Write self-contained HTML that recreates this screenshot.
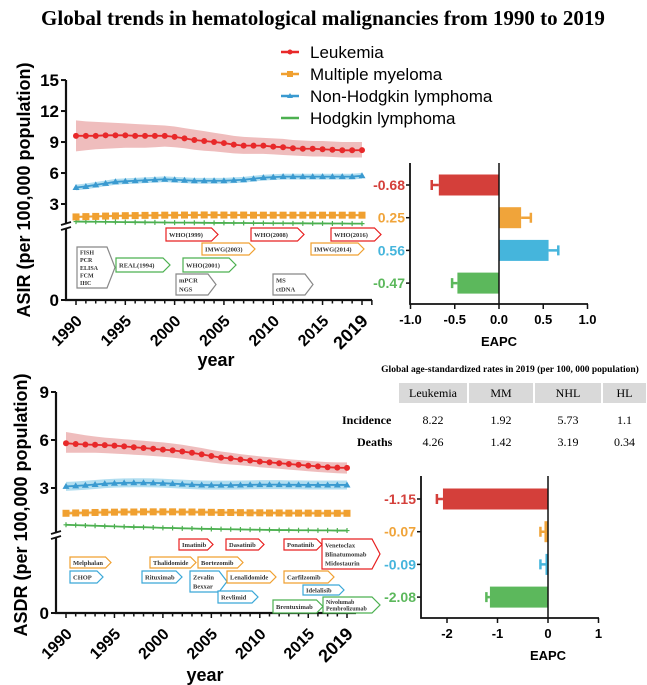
<!DOCTYPE html>
<html><head><meta charset="utf-8">
<style>
body{margin:0;background:#fff;}
svg{display:block;font-family:"Liberation Sans",Arial,sans-serif;}
.ser{font-family:"Liberation Serif",serif;font-weight:bold;}
</style></head>
<body>
<svg id="fig" width="647" height="685" viewBox="0 0 647 685" xmlns="http://www.w3.org/2000/svg">
<text class="ser" x="323" y="25" font-size="21" text-anchor="middle">Global trends in hematological malignancies from 1990 to 2019</text>
<g id="top"></g><g id="bot"></g><g id="bars1"></g><g id="bars2"></g><g id="legend"></g><g id="table"></g><g id="ann"></g>
</svg>
<script>
const years=[];for(let y=1990;y<=2019;y++)years.push(y);
const xTicks=[1990,1995,2000,2005,2010,2015,2019];
// ASIR
const asirLeuk=[9.6,9.6,9.6,9.65,9.65,9.65,9.6,9.6,9.6,9.6,9.5,9.35,9.2,9.1,9.0,8.9,8.75,8.65,8.65,8.65,8.55,8.5,8.4,8.35,8.35,8.3,8.25,8.2,8.2,8.22];
const asirLeukHi=[11.1,11.0,10.95,10.9,10.85,10.8,10.75,10.7,10.65,10.6,10.5,10.35,10.2,10.05,9.9,9.75,9.6,9.5,9.45,9.4,9.35,9.3,9.2,9.15,9.1,9.1,9.05,9.0,9.0,9.0];
const asirLeukLo=[8.1,8.2,8.3,8.35,8.4,8.45,8.45,8.45,8.5,8.55,8.5,8.4,8.25,8.15,8.1,8.0,7.9,7.85,7.85,7.85,7.8,7.75,7.7,7.65,7.6,7.6,7.55,7.5,7.5,7.5];
const asirNHL=[4.6,4.7,4.85,5.0,5.15,5.2,5.25,5.3,5.35,5.4,5.35,5.3,5.25,5.25,5.25,5.25,5.3,5.35,5.45,5.55,5.6,5.65,5.65,5.65,5.65,5.65,5.65,5.65,5.65,5.73];
const asirMM=[1.75,1.78,1.8,1.83,1.85,1.87,1.88,1.9,1.9,1.92,1.92,1.93,1.93,1.94,1.94,1.93,1.93,1.93,1.92,1.92,1.92,1.92,1.92,1.92,1.92,1.92,1.92,1.92,1.92,1.92];
const asirHL=[1.3,1.29,1.28,1.27,1.26,1.25,1.24,1.23,1.22,1.21,1.2,1.2,1.19,1.18,1.17,1.17,1.16,1.16,1.15,1.15,1.14,1.14,1.13,1.13,1.12,1.12,1.11,1.11,1.1,1.1];
const asirTicks=[3,6,9,12,15];
// ASDR
const asdrLeuk=[5.8,5.75,5.72,5.7,5.68,5.65,5.6,5.55,5.5,5.45,5.4,5.35,5.28,5.2,5.1,5.0,4.9,4.85,4.78,4.72,4.65,4.6,4.55,4.5,4.45,4.4,4.35,4.3,4.27,4.26];
const asdrLeukHi=[6.5,6.4,6.3,6.22,6.15,6.1,6.05,6.0,5.95,5.9,5.85,5.78,5.7,5.6,5.5,5.38,5.28,5.2,5.12,5.05,4.98,4.92,4.86,4.8,4.75,4.7,4.66,4.62,4.6,4.6];
const asdrLeukLo=[5.2,5.2,5.2,5.2,5.18,5.15,5.12,5.08,5.05,5.0,4.95,4.9,4.83,4.75,4.68,4.6,4.52,4.47,4.42,4.37,4.3,4.25,4.2,4.15,4.1,4.05,4.0,3.96,3.92,3.9];
const asdrNHL=[3.1,3.13,3.17,3.22,3.27,3.3,3.32,3.33,3.33,3.32,3.3,3.27,3.24,3.21,3.19,3.18,3.18,3.18,3.19,3.2,3.21,3.21,3.21,3.2,3.2,3.19,3.19,3.19,3.19,3.19];
const asdrMM=[1.42,1.44,1.45,1.47,1.48,1.49,1.5,1.5,1.51,1.51,1.51,1.51,1.5,1.5,1.49,1.48,1.47,1.47,1.46,1.45,1.45,1.44,1.44,1.43,1.43,1.43,1.42,1.42,1.42,1.42];
const asdrHL=[0.7,0.68,0.66,0.64,0.62,0.6,0.58,0.56,0.55,0.53,0.51,0.5,0.48,0.47,0.45,0.44,0.43,0.42,0.41,0.4,0.39,0.38,0.37,0.37,0.36,0.36,0.35,0.35,0.34,0.34];
const asdrTicks=[3,6,9];
// EAPC
const eapcCats=["Leukemia","Multiple myeloma","Non-Hodgkin lymphoma","Hodgkin lymphoma"];
const eapcInc=[-0.68,0.25,0.56,-0.47];
const eapcIncErr=[0.08,0.11,0.11,0.06];
const eapcIncLabels=["-0.68","0.25","0.56","-0.47"];
const eapcDth=[-2.08,-0.07,-0.05,-1.15];
const eapcDthErr=[0.12,0.08,0.1,0.07];
const eapcDthLabels=["-1.15","-0.07","-0.09","-2.08"];
const eapcTicks1=[-1,-0.5,0,0.5,1];
const eapcTicks2=[-2,-1,0,1];
// table
const tblCols=["Leukemia","MM","NHL","HL"];
const tblInc=["8.22","1.92","5.73","1.1"];
const tblDth=["4.26","1.42","3.19","0.34"];

const NS="http://www.w3.org/2000/svg";
function el(tag,attrs,parent,txt){const e=document.createElementNS(NS,tag);for(const k in attrs)e.setAttribute(k,attrs[k]);if(txt!==undefined)e.textContent=txt;parent.appendChild(e);return e;}
const COL={leuk:"#e8292a",mm:"#f0a030",nhl:"#3a9ad0",hl:"#4cb050"};

function lineChart(g,cfg){
  const X=y=>cfg.x0+(y-1990)*(cfg.x1-cfg.x0)/29;
  const Y=v=>cfg.yz-v*cfg.k;
  let d="";cfg.hi.forEach((v,i)=>d+=(i?"L":"M")+X(years[i])+","+Y(v));
  for(let i=cfg.lo.length-1;i>=0;i--)d+="L"+X(years[i])+","+Y(cfg.lo[i]);
  let b=el("path",{d:d+"Z",fill:"#eaa7a7",opacity:"0.75"},g);
  
  
  let d2="";cfg.nhl.forEach((v,i)=>d2+=(i?"L":"M")+X(years[i])+","+Y(v+0.28));
  for(let i=cfg.nhl.length-1;i>=0;i--)d2+="L"+X(years[i])+","+Y(cfg.nhl[i]-0.28);
  let b2=el("path",{d:d2+"Z",fill:"#9fd6ec",opacity:"0.8"},g);
  
  
  let d3="";cfg.mm.forEach((v,i)=>d3+=(i?"L":"M")+X(years[i])+","+Y(v+0.12));
  for(let i=cfg.mm.length-1;i>=0;i--)d3+="L"+X(years[i])+","+Y(cfg.mm[i]-0.12);
  el("path",{d:d3+"Z",fill:"#f7d6a0",opacity:"0.8"},g);
  const series=[["hl",cfg.hlv],["mm",cfg.mm],["nhl",cfg.nhl],["leuk",cfg.leuk]];
  series.forEach(([key,arr])=>{
    let p="";arr.forEach((v,i)=>p+=(i?"L":"M")+X(years[i])+","+Y(v));
    const ln=el("path",{d:p,fill:"none",stroke:COL[key],"stroke-width":"1.8"},g);
    
    
    arr.forEach((v,i)=>{
      const cx=X(years[i]),cy=Y(v);let m;
      if(key==="leuk")m=el("circle",{cx,cy,r:3,fill:COL[key]},g);
      else if(key==="mm")m=el("rect",{x:cx-3.5,y:cy-3.5,width:7,height:7,fill:COL[key]},g);
      else if(key==="nhl")m=el("path",{d:`M${cx},${cy-3.5}L${cx+3.5},${cy+2.5}L${cx-3.5},${cy+2.5}Z`,fill:COL[key]},g);
      else m=el("path",{d:`M${cx-2.5},${cy}H${cx+2.5}M${cx},${cy-2.5}V${cy+2.5}`,stroke:COL[key],"stroke-width":"1.2"},g);
      
      
    });
  });
  const ax=el("path",{d:`M${cfg.ax},${cfg.ytop}V${cfg.brk-3}M${cfg.ax},${cfg.brk+3}V${cfg.ybot}H${cfg.xend}`,stroke:"#111","stroke-width":"2.2",fill:"none"},g);
  
  
  el("path",{d:`M${cfg.ax-5},${cfg.brk-1}l10,-3M${cfg.ax-5},${cfg.brk+4}l10,-3`,stroke:"#111","stroke-width":"1.8"},g);
  cfg.ticks.forEach(t=>{
    el("line",{x1:cfg.ax-5,x2:cfg.ax,y1:Y(t),y2:Y(t),stroke:"#111","stroke-width":"2"},g);
    const tl=el("text",{x:cfg.ax-7,y:Y(t)+6,"font-size":"17","font-weight":"bold","text-anchor":"end"},g,String(t));
    
    
  });
  el("line",{x1:cfg.ax-5,x2:cfg.ax,y1:cfg.ybot,y2:cfg.ybot,stroke:"#111","stroke-width":"2"},g);
  el("text",{x:cfg.ax-7,y:cfg.ybot+6,"font-size":"17","font-weight":"bold","text-anchor":"end"},g,"0");
  for(let y=1990;y<=2021;y++){const x=X(y);if(x>cfg.xend)break;el("line",{x1:x,x2:x,y1:cfg.ybot,y2:cfg.ybot+(y%5===0||y===2019?5:3.5),stroke:"#111","stroke-width":"1.5"},g);}
  xTicks.forEach(t=>{
    const x=X(t),y=cfg.ybot+15;
    const tl=el("text",{x:x+7,y:y+7,"font-size":t===2019?"18":"16","font-weight":"bold","text-anchor":"end",transform:`rotate(-45 ${x+7} ${y+7})`},g,String(t));
    
    
  });
  const yt=el("text",{x:cfg.ytx,y:cfg.yty,"font-size":"18","font-weight":"bold","text-anchor":"middle",transform:`rotate(-90 ${cfg.ytx} ${cfg.yty})`},g,cfg.ytitle);
  
  
  const xt=el("text",{x:cfg.xtx,y:cfg.xty,"font-size":"18","font-weight":"bold","text-anchor":"middle"},g,"year");
  
  
}
lineChart(document.getElementById("top"),{x0:76,x1:362,yz:235,k:10.33,ax:66,ytop:80,brk:226,ybot:300,xend:372,
  leuk:asirLeuk,hi:asirLeukHi,lo:asirLeukLo,nhl:asirNHL,mm:asirMM,hlv:asirHL,ticks:asirTicks,
  ytitle:"ASIR (per 100,000 population)",ytx:30,yty:190,xtx:216,xty:366});
lineChart(document.getElementById("bot"),{x0:66,x1:347,yz:536,k:16,ax:56,ytop:392,brk:535,ybot:613,xend:356,
  leuk:asdrLeuk,hi:asdrLeukHi,lo:asdrLeukLo,nhl:asdrNHL,mm:asdrMM,hlv:asdrHL,ticks:asdrTicks,
  ytitle:"ASDR (per 100,000 population)",ytx:27,yty:505,xtx:205,xty:681});

const BC=["#d43f3a","#f0a43a","#45b5dc","#5cb85c"];
function barChart(g,cfg){
  const X=v=>cfg.z+v*cfg.k;
  cfg.vals.forEach((v,i)=>{
    const cy=cfg.c0+i*cfg.step;
    const r=el("rect",{x:Math.min(X(0),X(v)),y:cy-10.5,width:Math.abs(X(v)-X(0)),height:21,fill:BC[i]},g);
    
    
    const e=v+(v<0?-cfg.err[i]:cfg.err[i]);
    el("path",{d:`M${X(v)},${cy}H${X(e)}M${X(e)},${cy-5}V${cy+5}`,stroke:BC[i],"stroke-width":"2.5"},g);
    el("line",{x1:cfg.ax-4,x2:cfg.ax,y1:cy,y2:cy,stroke:"#111","stroke-width":"1.5"},g);
    const t=el("text",{x:cfg.ax-5,y:cy+5,"font-size":"14","font-weight":"bold","text-anchor":"end",fill:BC[i]},g,cfg.labels[i]);
    
    
  });
  el("path",{d:`M${cfg.ax},${cfg.top}V${cfg.base}H${cfg.xend}`,stroke:"#111","stroke-width":"1.8",fill:"none"},g);
  el("line",{x1:X(0),x2:X(0),y1:cfg.top,y2:cfg.base,stroke:"#111","stroke-width":"1.5"},g);
  cfg.ticks.forEach(t=>{
    el("line",{x1:X(t),x2:X(t),y1:cfg.base,y2:cfg.base+5,stroke:"#111","stroke-width":"1.5"},g);
    const tl=el("text",{x:X(t),y:cfg.base+20,"font-size":"13","font-weight":"bold","text-anchor":"middle"},g,t===0&&cfg.dec?"0.0":(cfg.dec?t.toFixed(1):String(t)));
    
    
  });
  const xt=el("text",{x:X(0),y:cfg.base+42,"font-size":"13","font-weight":"bold","text-anchor":"middle"},g,"EAPC");
  
  
}
barChart(document.getElementById("bars1"),{z:499,k:88.5,ax:410,top:163,base:304,xend:588,c0:185,step:32.7,
  vals:eapcInc,err:eapcIncErr,labels:eapcIncLabels,cats:eapcCats,ticks:eapcTicks1,dec:true});
barChart(document.getElementById("bars2"),{z:548,k:50.5,ax:421,top:476,base:618,xend:599,c0:499,step:32.7,
  vals:eapcDth,err:eapcDthErr,labels:eapcDthLabels,cats:eapcCats,ticks:eapcTicks2,dec:false});

const lg=document.getElementById("legend");
const legNames=["Leukemia","Multiple myeloma","Non-Hodgkin lymphoma","Hodgkin lymphoma"];
["leuk","mm","nhl","hl"].forEach((k,i)=>{
  const y=52+i*22;
  const gg=el("g",{},lg);
  
  
  el("line",{x1:281,x2:299,y1:y,y2:y,stroke:COL[k],"stroke-width":"2.5"},gg);
  if(k==="leuk")el("circle",{cx:290,cy:y,r:2.5,fill:COL[k]},gg);
  else if(k==="mm")el("rect",{x:287,y:y-3,width:6,height:6,fill:COL[k]},gg);
  else if(k==="nhl")el("path",{d:`M290,${y-3}L293,${y+2}L287,${y+2}Z`,fill:COL[k]},gg);
  el("text",{x:310,y:y+6,"font-size":"17"},gg,legNames[i]);
});

const tb=document.getElementById("table");
let tt=el("text",{class:"ser",x:510,y:372,"font-size":"9.5","text-anchor":"middle"},tb,"Global age-standardized rates in 2019  (per 100, 000 population)");


const colX=[[399,467],[469,533],[535,601],[603,646]];
tblCols.forEach((c,i)=>{
  const [a,b]=colX[i];
  el("rect",{x:a,y:383,width:b-a,height:20,fill:"#d9d9d9"},tb);
  const cx=(a+b)/2;
  const h=el("text",{x:cx,y:397,"font-size":"12","font-family":"Liberation Serif,serif","text-anchor":"middle"},tb,c);
  
  
  el("text",{x:cx,y:424,"font-size":"12","font-family":"Liberation Serif,serif","text-anchor":"middle"},tb,tblInc[i]);
  el("text",{x:cx,y:446,"font-size":"12","font-family":"Liberation Serif,serif","text-anchor":"middle"},tb,tblDth[i]);
});
el("text",{class:"ser",x:342,y:424,"font-size":"12"},tb,"Incidence");
el("text",{class:"ser",x:357,y:446,"font-size":"12"},tb,"Deaths");

const annColors={r:"#e82020",o:"#f0a030",b:"#3aa8d8",g:"#4cb050",k:"#888"};
const annots=[
 ["WHO(1999)","r",166,228,218,241],["WHO(2008)","r",251,228,304,241],["WHO(2016)","r",331,228,381,241],
 ["IMWG(2003)","o",202,243,255,255],["IMWG(2014)","o",311,243,364,255],
 ["FISH|PCR|ELISA|FCM|IHC","k",77,247,115,288],["REAL(1994)","g",116,258,170,272],["WHO(2001)","g",183,258,236,272],
 ["mPCR|NGS","k",176,274,216,295],["MS|ctDNA","k",273,274,313,295],
 ["Imatinib","r",179,539,213,550],["Dasatinib","r",226,539,264,550],["Ponatinib","r",284,539,322,550],
 ["Venetoclax|Blinatumomab|Midostaurin","r",322,539,380,569],
 ["Melphalan","o",70,557,111,568],["Thalidomide","o",150,557,196,568],["Bortezomib","o",198,557,243,568],
 ["CHOP","b",70,571,103,583],["Rituximab","b",142,571,182,583],["Zevalin|Bexxar","b",190,571,227,592],
 ["Lenalidomide","o",227,571,276,583],["Carfilzomib","o",284,571,334,583],["Idelalisib","b",303,585,344,595],
 ["Revlimid","b",218,591,258,603],["Brentuximab","g",273,600,323,613],["Nivolumab|Pembrolizumab","g",323,597,380,613]
];
const an=document.getElementById("ann");
annots.forEach(([t,c,x1,y1,x2,y2])=>{
  const h=y2-y1,p=Math.min(h/2,8);
  const g=el("g",{},an);
  
  
  el("path",{d:`M${x1},${y1}H${x2-p}L${x2},${(y1+y2)/2}L${x2-p},${y2}H${x1}Z`,fill:"#fff",stroke:annColors[c],"stroke-width":"1.2"},g);
  const lines=t.split("|");
  const n=lines.length,step=(h-3)/n;
  lines.forEach((s,i)=>el("text",{class:"ser",x:x1+3,y:y1+1.5+(i+0.5)*step+2.3,"font-size":n>1&&step<8?"6":"6.5",fill:"#333"},g,s));
});
</script>
</body></html>
